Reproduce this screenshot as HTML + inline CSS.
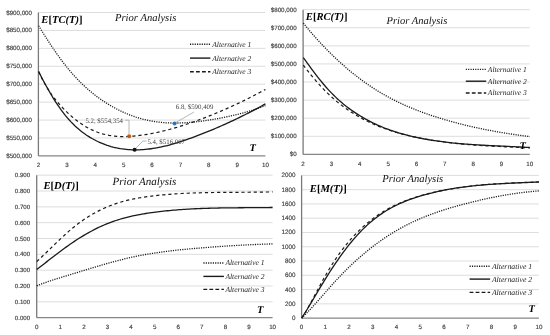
<!DOCTYPE html>
<html><head><meta charset="utf-8"><title>Prior Analysis charts</title>
<style>
html,body{margin:0;padding:0;background:#fff;}
body{width:550px;height:335px;overflow:hidden;}
svg{display:block;}
</style></head>
<body>
<svg width="550" height="335" viewBox="0 0 550 335" text-rendering="geometricPrecision">
<rect width="550" height="335" fill="#fff"/>
<line x1="38.4" y1="12.50" x2="265.4" y2="12.50" stroke="#d9d9d9" stroke-width="0.9"/>
<line x1="38.4" y1="30.43" x2="265.4" y2="30.43" stroke="#d9d9d9" stroke-width="0.9"/>
<line x1="38.4" y1="48.35" x2="265.4" y2="48.35" stroke="#d9d9d9" stroke-width="0.9"/>
<line x1="38.4" y1="66.28" x2="265.4" y2="66.28" stroke="#d9d9d9" stroke-width="0.9"/>
<line x1="38.4" y1="84.20" x2="265.4" y2="84.20" stroke="#d9d9d9" stroke-width="0.9"/>
<line x1="38.4" y1="102.12" x2="265.4" y2="102.12" stroke="#d9d9d9" stroke-width="0.9"/>
<line x1="38.4" y1="120.05" x2="265.4" y2="120.05" stroke="#d9d9d9" stroke-width="0.9"/>
<line x1="38.4" y1="137.97" x2="265.4" y2="137.97" stroke="#d9d9d9" stroke-width="0.9"/>
<line x1="38.4" y1="155.90" x2="265.4" y2="155.90" stroke="#868686" stroke-width="1.4"/>
<line x1="38.4" y1="12.50" x2="38.4" y2="155.90" stroke="#7a7a7a" stroke-width="1.3"/>
<text x="32" y="14.50" text-anchor="end" font-family="'Liberation Sans', Arial, sans-serif" font-size="6.2" fill="#404040" stroke="#404040" stroke-width="0.15">$900,000</text>
<text x="32" y="32.42" text-anchor="end" font-family="'Liberation Sans', Arial, sans-serif" font-size="6.2" fill="#404040" stroke="#404040" stroke-width="0.15">$850,000</text>
<text x="32" y="50.35" text-anchor="end" font-family="'Liberation Sans', Arial, sans-serif" font-size="6.2" fill="#404040" stroke="#404040" stroke-width="0.15">$800,000</text>
<text x="32" y="68.28" text-anchor="end" font-family="'Liberation Sans', Arial, sans-serif" font-size="6.2" fill="#404040" stroke="#404040" stroke-width="0.15">$750,000</text>
<text x="32" y="86.20" text-anchor="end" font-family="'Liberation Sans', Arial, sans-serif" font-size="6.2" fill="#404040" stroke="#404040" stroke-width="0.15">$700,000</text>
<text x="32" y="104.12" text-anchor="end" font-family="'Liberation Sans', Arial, sans-serif" font-size="6.2" fill="#404040" stroke="#404040" stroke-width="0.15">$650,000</text>
<text x="32" y="122.05" text-anchor="end" font-family="'Liberation Sans', Arial, sans-serif" font-size="6.2" fill="#404040" stroke="#404040" stroke-width="0.15">$600,000</text>
<text x="32" y="139.97" text-anchor="end" font-family="'Liberation Sans', Arial, sans-serif" font-size="6.2" fill="#404040" stroke="#404040" stroke-width="0.15">$550,000</text>
<text x="32" y="157.90" text-anchor="end" font-family="'Liberation Sans', Arial, sans-serif" font-size="6.2" fill="#404040" stroke="#404040" stroke-width="0.15">$500,000</text>
<text x="38.50" y="166.60" text-anchor="middle" font-family="'Liberation Sans', Arial, sans-serif" font-size="6.2" fill="#404040" stroke="#404040" stroke-width="0.15">2</text>
<text x="66.88" y="166.60" text-anchor="middle" font-family="'Liberation Sans', Arial, sans-serif" font-size="6.2" fill="#404040" stroke="#404040" stroke-width="0.15">3</text>
<text x="95.25" y="166.60" text-anchor="middle" font-family="'Liberation Sans', Arial, sans-serif" font-size="6.2" fill="#404040" stroke="#404040" stroke-width="0.15">4</text>
<text x="123.62" y="166.60" text-anchor="middle" font-family="'Liberation Sans', Arial, sans-serif" font-size="6.2" fill="#404040" stroke="#404040" stroke-width="0.15">5</text>
<text x="152.00" y="166.60" text-anchor="middle" font-family="'Liberation Sans', Arial, sans-serif" font-size="6.2" fill="#404040" stroke="#404040" stroke-width="0.15">6</text>
<text x="180.38" y="166.60" text-anchor="middle" font-family="'Liberation Sans', Arial, sans-serif" font-size="6.2" fill="#404040" stroke="#404040" stroke-width="0.15">7</text>
<text x="208.75" y="166.60" text-anchor="middle" font-family="'Liberation Sans', Arial, sans-serif" font-size="6.2" fill="#404040" stroke="#404040" stroke-width="0.15">8</text>
<text x="237.12" y="166.60" text-anchor="middle" font-family="'Liberation Sans', Arial, sans-serif" font-size="6.2" fill="#404040" stroke="#404040" stroke-width="0.15">9</text>
<text x="265.50" y="166.60" text-anchor="middle" font-family="'Liberation Sans', Arial, sans-serif" font-size="6.2" fill="#404040" stroke="#404040" stroke-width="0.15">10</text>
<path d="M38.60,25.80 L40.51,28.87 L42.41,31.92 L44.32,34.94 L46.22,37.93 L48.13,40.87 L50.04,43.78 L51.94,46.65 L53.85,49.47 L55.75,52.24 L57.66,54.95 L59.56,57.61 L61.47,60.20 L63.38,62.73 L65.28,65.19 L67.19,67.59 L69.09,69.90 L71.00,72.15 L72.91,74.33 L74.81,76.45 L76.72,78.49 L78.62,80.48 L80.53,82.40 L82.44,84.25 L84.34,86.05 L86.25,87.80 L88.15,89.48 L90.06,91.11 L91.96,92.69 L93.87,94.22 L95.78,95.69 L97.68,97.12 L99.59,98.50 L101.49,99.83 L103.40,101.12 L105.31,102.37 L107.21,103.57 L109.12,104.74 L111.02,105.87 L112.93,106.95 L114.84,108.00 L116.74,109.01 L118.65,109.98 L120.55,110.92 L122.46,111.81 L124.36,112.67 L126.27,113.49 L128.18,114.28 L130.08,115.03 L131.99,115.74 L133.89,116.41 L135.80,117.06 L137.71,117.66 L139.61,118.23 L141.52,118.77 L143.42,119.27 L145.33,119.74 L147.24,120.18 L149.14,120.58 L151.05,120.95 L152.95,121.28 L154.86,121.59 L156.76,121.86 L158.67,122.11 L160.58,122.32 L162.48,122.50 L164.39,122.66 L166.29,122.79 L168.20,122.89 L170.11,122.97 L172.01,123.02 L173.92,123.04 L175.82,123.04 L177.73,123.02 L179.64,122.98 L181.54,122.92 L183.45,122.83 L185.35,122.73 L187.26,122.60 L189.16,122.46 L191.07,122.30 L192.98,122.12 L194.88,121.93 L196.79,121.72 L198.69,121.50 L200.60,121.26 L202.51,121.01 L204.41,120.75 L206.32,120.47 L208.22,120.19 L210.13,119.89 L212.04,119.59 L213.94,119.27 L215.85,118.94 L217.75,118.61 L219.66,118.26 L221.56,117.90 L223.47,117.52 L225.38,117.14 L227.28,116.74 L229.19,116.33 L231.09,115.90 L233.00,115.46 L234.91,115.01 L236.81,114.54 L238.72,114.06 L240.62,113.57 L242.53,113.05 L244.44,112.53 L246.34,111.98 L248.25,111.42 L250.15,110.85 L252.06,110.26 L253.96,109.65 L255.87,109.02 L257.78,108.37 L259.68,107.71 L261.59,107.03 L263.49,106.33 L265.40,105.61" fill="none" stroke="#1a1a1a" stroke-width="1.3" stroke-linejoin="round" stroke-dasharray="1.15 1.2"/>
<path d="M38.60,71.52 L40.51,75.27 L42.41,78.95 L44.32,82.53 L46.22,86.03 L48.13,89.44 L50.04,92.76 L51.94,95.97 L53.85,99.08 L55.75,102.08 L57.66,104.97 L59.56,107.74 L61.47,110.39 L63.38,112.91 L65.28,115.32 L67.19,117.61 L69.09,119.79 L71.00,121.85 L72.91,123.81 L74.81,125.67 L76.72,127.44 L78.62,129.11 L80.53,130.68 L82.44,132.18 L84.34,133.59 L86.25,134.92 L88.15,136.17 L90.06,137.36 L91.96,138.48 L93.87,139.53 L95.78,140.53 L97.68,141.47 L99.59,142.35 L101.49,143.18 L103.40,143.95 L105.31,144.68 L107.21,145.35 L109.12,145.97 L111.02,146.54 L112.93,147.06 L114.84,147.53 L116.74,147.96 L118.65,148.34 L120.55,148.68 L122.46,148.97 L124.36,149.22 L126.27,149.43 L128.18,149.60 L130.08,149.72 L131.99,149.81 L133.89,149.86 L135.80,149.87 L137.71,149.85 L139.61,149.79 L141.52,149.70 L143.42,149.57 L145.33,149.41 L147.24,149.22 L149.14,149.00 L151.05,148.75 L152.95,148.47 L154.86,148.16 L156.76,147.82 L158.67,147.46 L160.58,147.07 L162.48,146.66 L164.39,146.22 L166.29,145.76 L168.20,145.27 L170.11,144.77 L172.01,144.24 L173.92,143.70 L175.82,143.13 L177.73,142.55 L179.64,141.95 L181.54,141.33 L183.45,140.70 L185.35,140.05 L187.26,139.39 L189.16,138.72 L191.07,138.03 L192.98,137.33 L194.88,136.62 L196.79,135.90 L198.69,135.18 L200.60,134.44 L202.51,133.69 L204.41,132.94 L206.32,132.18 L208.22,131.41 L210.13,130.63 L212.04,129.84 L213.94,129.04 L215.85,128.23 L217.75,127.41 L219.66,126.59 L221.56,125.75 L223.47,124.91 L225.38,124.05 L227.28,123.19 L229.19,122.32 L231.09,121.43 L233.00,120.54 L234.91,119.64 L236.81,118.73 L238.72,117.81 L240.62,116.88 L242.53,115.94 L244.44,114.99 L246.34,114.03 L248.25,113.06 L250.15,112.08 L252.06,111.09 L253.96,110.09 L255.87,109.08 L257.78,108.06 L259.68,107.03 L261.59,105.99 L263.49,104.94 L265.40,103.87" fill="none" stroke="#1a1a1a" stroke-width="1.3" stroke-linejoin="round" />
<path d="M38.60,71.52 L40.51,75.58 L42.41,79.38 L44.32,82.93 L46.22,86.25 L48.13,89.36 L50.04,92.26 L51.94,94.99 L53.85,97.56 L55.75,99.98 L57.66,102.28 L59.56,104.46 L61.47,106.55 L63.38,108.56 L65.28,110.50 L67.19,112.36 L69.09,114.15 L71.00,115.86 L72.91,117.50 L74.81,119.06 L76.72,120.55 L78.62,121.97 L80.53,123.32 L82.44,124.59 L84.34,125.80 L86.25,126.93 L88.15,128.00 L90.06,128.99 L91.96,129.92 L93.87,130.78 L95.78,131.57 L97.68,132.29 L99.59,132.96 L101.49,133.55 L103.40,134.09 L105.31,134.57 L107.21,134.99 L109.12,135.36 L111.02,135.67 L112.93,135.94 L114.84,136.15 L116.74,136.32 L118.65,136.45 L120.55,136.53 L122.46,136.57 L124.36,136.57 L126.27,136.54 L128.18,136.47 L130.08,136.37 L131.99,136.24 L133.89,136.08 L135.80,135.89 L137.71,135.68 L139.61,135.45 L141.52,135.20 L143.42,134.92 L145.33,134.63 L147.24,134.32 L149.14,133.99 L151.05,133.64 L152.95,133.28 L154.86,132.89 L156.76,132.50 L158.67,132.08 L160.58,131.65 L162.48,131.20 L164.39,130.73 L166.29,130.25 L168.20,129.76 L170.11,129.25 L172.01,128.72 L173.92,128.18 L175.82,127.63 L177.73,127.06 L179.64,126.48 L181.54,125.89 L183.45,125.28 L185.35,124.67 L187.26,124.03 L189.16,123.39 L191.07,122.74 L192.98,122.08 L194.88,121.40 L196.79,120.71 L198.69,120.02 L200.60,119.31 L202.51,118.60 L204.41,117.87 L206.32,117.13 L208.22,116.39 L210.13,115.63 L212.04,114.87 L213.94,114.09 L215.85,113.30 L217.75,112.51 L219.66,111.70 L221.56,110.89 L223.47,110.06 L225.38,109.23 L227.28,108.38 L229.19,107.53 L231.09,106.67 L233.00,105.79 L234.91,104.91 L236.81,104.02 L238.72,103.11 L240.62,102.20 L242.53,101.28 L244.44,100.35 L246.34,99.41 L248.25,98.46 L250.15,97.50 L252.06,96.53 L253.96,95.55 L255.87,94.56 L257.78,93.56 L259.68,92.55 L261.59,91.54 L263.49,90.51 L265.40,89.48" fill="none" stroke="#1a1a1a" stroke-width="1.2" stroke-linejoin="round" stroke-dasharray="3.2 2.9"/>
<text x="41.3" y="23.4" font-family="'Liberation Serif', 'Times New Roman', serif" font-weight="bold" font-size="10.6" fill="#000"><tspan font-style="italic">E</tspan>[<tspan font-style="italic">TC(T)</tspan>]</text>
<text x="115.0" y="20.7" font-family="'Liberation Serif', 'Times New Roman', serif" font-style="italic" font-size="10.6" fill="#111">Prior Analysis</text>
<line x1="190.0" y1="44.2" x2="210.4" y2="44.2" stroke="#1a1a1a" stroke-width="1.4" stroke-dasharray="1.15 1.2"/>
<text x="212.2" y="46.60" font-family="'Liberation Serif', 'Times New Roman', serif" font-style="italic" font-size="7.55" fill="#1c1c1c">Alternative 1</text>
<line x1="190.0" y1="58.1" x2="210.4" y2="58.1" stroke="#1a1a1a" stroke-width="1.4" />
<text x="212.2" y="60.50" font-family="'Liberation Serif', 'Times New Roman', serif" font-style="italic" font-size="7.55" fill="#1c1c1c">Alternative 2</text>
<line x1="190.0" y1="71.7" x2="210.4" y2="71.7" stroke="#1a1a1a" stroke-width="1.35" stroke-dasharray="3.8 2.2"/>
<text x="212.2" y="74.10" font-family="'Liberation Serif', 'Times New Roman', serif" font-style="italic" font-size="7.55" fill="#1c1c1c">Alternative 3</text>
<text x="249.5" y="150.8" font-family="'Liberation Serif', 'Times New Roman', serif" font-weight="bold" font-style="italic" font-size="10.5" fill="#000">T</text>
<polyline points="125.2,120.2 129.0,120.2 129.0,134.2" fill="none" stroke="#a6a6a6" stroke-width="0.8"/>
<polyline points="134.6,149.6 142.8,141 146.5,141" fill="none" stroke="#a6a6a6" stroke-width="0.8"/>
<polyline points="174.6,123.2 194,112" fill="none" stroke="#a6a6a6" stroke-width="0.8"/>
<text x="85.4" y="122.8" font-family="'Liberation Serif', 'Times New Roman', serif" font-size="6.85" fill="#3f3f3f">5.2, $554,354</text>
<text x="147.4" y="143.9" font-family="'Liberation Serif', 'Times New Roman', serif" font-size="6.85" fill="#3f3f3f">5.4, $516,007</text>
<text x="175.8" y="109.4" font-family="'Liberation Serif', 'Times New Roman', serif" font-size="6.85" fill="#3f3f3f">6.8, $590,409</text>
<circle cx="129.2" cy="136.3" r="2" fill="#c55a11"/>
<circle cx="134.6" cy="149.8" r="2" fill="#111"/>
<circle cx="174.6" cy="123.4" r="2" fill="#2e75b6"/>
<line x1="303.1" y1="9.65" x2="529.8" y2="9.65" stroke="#d9d9d9" stroke-width="0.9"/>
<line x1="303.1" y1="27.74" x2="529.8" y2="27.74" stroke="#d9d9d9" stroke-width="0.9"/>
<line x1="303.1" y1="45.84" x2="529.8" y2="45.84" stroke="#d9d9d9" stroke-width="0.9"/>
<line x1="303.1" y1="63.93" x2="529.8" y2="63.93" stroke="#d9d9d9" stroke-width="0.9"/>
<line x1="303.1" y1="82.03" x2="529.8" y2="82.03" stroke="#d9d9d9" stroke-width="0.9"/>
<line x1="303.1" y1="100.12" x2="529.8" y2="100.12" stroke="#d9d9d9" stroke-width="0.9"/>
<line x1="303.1" y1="118.21" x2="529.8" y2="118.21" stroke="#d9d9d9" stroke-width="0.9"/>
<line x1="303.1" y1="136.31" x2="529.8" y2="136.31" stroke="#d9d9d9" stroke-width="0.9"/>
<line x1="303.1" y1="154.40" x2="529.8" y2="154.40" stroke="#868686" stroke-width="1.4"/>
<line x1="303.1" y1="9.65" x2="303.1" y2="154.40" stroke="#7a7a7a" stroke-width="1.3"/>
<text x="296.6" y="11.65" text-anchor="end" font-family="'Liberation Sans', Arial, sans-serif" font-size="6.2" fill="#404040" stroke="#404040" stroke-width="0.15">$800,000</text>
<text x="296.6" y="29.74" text-anchor="end" font-family="'Liberation Sans', Arial, sans-serif" font-size="6.2" fill="#404040" stroke="#404040" stroke-width="0.15">$700,000</text>
<text x="296.6" y="47.84" text-anchor="end" font-family="'Liberation Sans', Arial, sans-serif" font-size="6.2" fill="#404040" stroke="#404040" stroke-width="0.15">$600,000</text>
<text x="296.6" y="65.93" text-anchor="end" font-family="'Liberation Sans', Arial, sans-serif" font-size="6.2" fill="#404040" stroke="#404040" stroke-width="0.15">$500,000</text>
<text x="296.6" y="84.03" text-anchor="end" font-family="'Liberation Sans', Arial, sans-serif" font-size="6.2" fill="#404040" stroke="#404040" stroke-width="0.15">$400,000</text>
<text x="296.6" y="102.12" text-anchor="end" font-family="'Liberation Sans', Arial, sans-serif" font-size="6.2" fill="#404040" stroke="#404040" stroke-width="0.15">$300,000</text>
<text x="296.6" y="120.21" text-anchor="end" font-family="'Liberation Sans', Arial, sans-serif" font-size="6.2" fill="#404040" stroke="#404040" stroke-width="0.15">$200,000</text>
<text x="296.6" y="138.31" text-anchor="end" font-family="'Liberation Sans', Arial, sans-serif" font-size="6.2" fill="#404040" stroke="#404040" stroke-width="0.15">$100,000</text>
<text x="296.6" y="156.40" text-anchor="end" font-family="'Liberation Sans', Arial, sans-serif" font-size="6.2" fill="#404040" stroke="#404040" stroke-width="0.15">$0</text>
<text x="303.10" y="165.80" text-anchor="middle" font-family="'Liberation Sans', Arial, sans-serif" font-size="6.2" fill="#404040" stroke="#404040" stroke-width="0.15">2</text>
<text x="331.44" y="165.80" text-anchor="middle" font-family="'Liberation Sans', Arial, sans-serif" font-size="6.2" fill="#404040" stroke="#404040" stroke-width="0.15">3</text>
<text x="359.78" y="165.80" text-anchor="middle" font-family="'Liberation Sans', Arial, sans-serif" font-size="6.2" fill="#404040" stroke="#404040" stroke-width="0.15">4</text>
<text x="388.12" y="165.80" text-anchor="middle" font-family="'Liberation Sans', Arial, sans-serif" font-size="6.2" fill="#404040" stroke="#404040" stroke-width="0.15">5</text>
<text x="416.46" y="165.80" text-anchor="middle" font-family="'Liberation Sans', Arial, sans-serif" font-size="6.2" fill="#404040" stroke="#404040" stroke-width="0.15">6</text>
<text x="444.80" y="165.80" text-anchor="middle" font-family="'Liberation Sans', Arial, sans-serif" font-size="6.2" fill="#404040" stroke="#404040" stroke-width="0.15">7</text>
<text x="473.14" y="165.80" text-anchor="middle" font-family="'Liberation Sans', Arial, sans-serif" font-size="6.2" fill="#404040" stroke="#404040" stroke-width="0.15">8</text>
<text x="501.48" y="165.80" text-anchor="middle" font-family="'Liberation Sans', Arial, sans-serif" font-size="6.2" fill="#404040" stroke="#404040" stroke-width="0.15">9</text>
<text x="529.82" y="165.80" text-anchor="middle" font-family="'Liberation Sans', Arial, sans-serif" font-size="6.2" fill="#404040" stroke="#404040" stroke-width="0.15">10</text>
<path d="M303.30,23.08 L305.20,25.44 L307.11,27.76 L309.01,30.04 L310.91,32.28 L312.82,34.48 L314.72,36.64 L316.62,38.77 L318.53,40.86 L320.43,42.92 L322.33,44.94 L324.24,46.93 L326.14,48.89 L328.04,50.82 L329.95,52.72 L331.85,54.59 L333.75,56.43 L335.66,58.24 L337.56,60.02 L339.46,61.77 L341.37,63.50 L343.27,65.19 L345.17,66.85 L347.08,68.49 L348.98,70.10 L350.88,71.67 L352.79,73.22 L354.69,74.74 L356.59,76.24 L358.50,77.70 L360.40,79.14 L362.30,80.54 L364.21,81.92 L366.11,83.27 L368.01,84.60 L369.92,85.89 L371.82,87.16 L373.72,88.40 L375.63,89.61 L377.53,90.80 L379.43,91.96 L381.34,93.09 L383.24,94.20 L385.14,95.29 L387.05,96.35 L388.95,97.38 L390.85,98.40 L392.76,99.39 L394.66,100.36 L396.56,101.31 L398.47,102.23 L400.37,103.14 L402.27,104.03 L404.18,104.89 L406.08,105.74 L407.98,106.57 L409.89,107.38 L411.79,108.17 L413.69,108.95 L415.60,109.71 L417.50,110.45 L419.41,111.18 L421.31,111.89 L423.21,112.59 L425.12,113.27 L427.02,113.94 L428.92,114.60 L430.83,115.25 L432.73,115.88 L434.63,116.50 L436.54,117.11 L438.44,117.71 L440.34,118.30 L442.25,118.88 L444.15,119.45 L446.05,120.01 L447.96,120.56 L449.86,121.10 L451.76,121.63 L453.67,122.15 L455.57,122.66 L457.47,123.17 L459.38,123.66 L461.28,124.15 L463.18,124.62 L465.09,125.09 L466.99,125.55 L468.89,126.00 L470.80,126.45 L472.70,126.88 L474.60,127.31 L476.51,127.73 L478.41,128.14 L480.31,128.54 L482.22,128.94 L484.12,129.32 L486.02,129.70 L487.93,130.07 L489.83,130.44 L491.73,130.80 L493.64,131.15 L495.54,131.49 L497.44,131.83 L499.35,132.16 L501.25,132.48 L503.15,132.79 L505.06,133.10 L506.96,133.41 L508.86,133.70 L510.77,133.99 L512.67,134.28 L514.57,134.55 L516.48,134.83 L518.38,135.09 L520.28,135.35 L522.19,135.61 L524.09,135.85 L525.99,136.10 L527.90,136.33 L529.80,136.57" fill="none" stroke="#1a1a1a" stroke-width="1.3" stroke-linejoin="round" stroke-dasharray="1.15 1.2"/>
<path d="M303.30,57.54 L305.20,60.19 L307.11,62.83 L309.01,65.45 L310.91,68.04 L312.82,70.60 L314.72,73.13 L316.62,75.62 L318.53,78.06 L320.43,80.45 L322.33,82.78 L324.24,85.04 L326.14,87.24 L328.04,89.36 L329.95,91.41 L331.85,93.39 L333.75,95.30 L335.66,97.14 L337.56,98.92 L339.46,100.64 L341.37,102.29 L343.27,103.89 L345.17,105.44 L347.08,106.93 L348.98,108.37 L350.88,109.76 L352.79,111.10 L354.69,112.40 L356.59,113.65 L358.50,114.87 L360.40,116.04 L362.30,117.18 L364.21,118.28 L366.11,119.35 L368.01,120.38 L369.92,121.38 L371.82,122.34 L373.72,123.27 L375.63,124.18 L377.53,125.05 L379.43,125.89 L381.34,126.70 L383.24,127.48 L385.14,128.24 L387.05,128.96 L388.95,129.67 L390.85,130.34 L392.76,130.99 L394.66,131.62 L396.56,132.23 L398.47,132.81 L400.37,133.38 L402.27,133.92 L404.18,134.44 L406.08,134.94 L407.98,135.43 L409.89,135.89 L411.79,136.34 L413.69,136.78 L415.60,137.20 L417.50,137.60 L419.41,137.99 L421.31,138.37 L423.21,138.74 L425.12,139.09 L427.02,139.43 L428.92,139.76 L430.83,140.07 L432.73,140.37 L434.63,140.67 L436.54,140.95 L438.44,141.22 L440.34,141.48 L442.25,141.73 L444.15,141.97 L446.05,142.20 L447.96,142.42 L449.86,142.63 L451.76,142.83 L453.67,143.03 L455.57,143.22 L457.47,143.39 L459.38,143.57 L461.28,143.73 L463.18,143.89 L465.09,144.04 L466.99,144.19 L468.89,144.33 L470.80,144.46 L472.70,144.59 L474.60,144.71 L476.51,144.83 L478.41,144.95 L480.31,145.06 L482.22,145.17 L484.12,145.27 L486.02,145.37 L487.93,145.47 L489.83,145.56 L491.73,145.66 L493.64,145.75 L495.54,145.84 L497.44,145.93 L499.35,146.01 L501.25,146.10 L503.15,146.19 L505.06,146.27 L506.96,146.36 L508.86,146.45 L510.77,146.53 L512.67,146.62 L514.57,146.71 L516.48,146.80 L518.38,146.90 L520.28,147.00 L522.19,147.09 L524.09,147.20 L525.99,147.30 L527.90,147.41 L529.80,147.52" fill="none" stroke="#1a1a1a" stroke-width="1.3" stroke-linejoin="round" />
<path d="M303.30,65.04 L305.20,67.58 L307.11,70.06 L309.01,72.49 L310.91,74.87 L312.82,77.18 L314.72,79.45 L316.62,81.65 L318.53,83.80 L320.43,85.89 L322.33,87.92 L324.24,89.89 L326.14,91.81 L328.04,93.66 L329.95,95.46 L331.85,97.21 L333.75,98.90 L335.66,100.53 L337.56,102.11 L339.46,103.65 L341.37,105.13 L343.27,106.57 L345.17,107.96 L347.08,109.31 L348.98,110.61 L350.88,111.88 L352.79,113.10 L354.69,114.28 L356.59,115.42 L358.50,116.53 L360.40,117.61 L362.30,118.65 L364.21,119.66 L366.11,120.63 L368.01,121.58 L369.92,122.49 L371.82,123.37 L373.72,124.23 L375.63,125.06 L377.53,125.86 L379.43,126.63 L381.34,127.38 L383.24,128.10 L385.14,128.79 L387.05,129.47 L388.95,130.12 L390.85,130.74 L392.76,131.35 L394.66,131.93 L396.56,132.50 L398.47,133.05 L400.37,133.57 L402.27,134.08 L404.18,134.57 L406.08,135.05 L407.98,135.51 L409.89,135.96 L411.79,136.39 L413.69,136.81 L415.60,137.21 L417.50,137.60 L419.41,137.99 L421.31,138.36 L423.21,138.72 L425.12,139.07 L427.02,139.41 L428.92,139.73 L430.83,140.05 L432.73,140.36 L434.63,140.66 L436.54,140.95 L438.44,141.23 L440.34,141.50 L442.25,141.76 L444.15,142.01 L446.05,142.26 L447.96,142.50 L449.86,142.72 L451.76,142.94 L453.67,143.16 L455.57,143.36 L457.47,143.56 L459.38,143.75 L461.28,143.94 L463.18,144.11 L465.09,144.29 L466.99,144.45 L468.89,144.61 L470.80,144.76 L472.70,144.91 L474.60,145.05 L476.51,145.19 L478.41,145.32 L480.31,145.45 L482.22,145.58 L484.12,145.69 L486.02,145.81 L487.93,145.92 L489.83,146.03 L491.73,146.13 L493.64,146.23 L495.54,146.33 L497.44,146.42 L499.35,146.52 L501.25,146.61 L503.15,146.69 L505.06,146.78 L506.96,146.86 L508.86,146.94 L510.77,147.02 L512.67,147.10 L514.57,147.18 L516.48,147.26 L518.38,147.34 L520.28,147.41 L522.19,147.49 L524.09,147.57 L525.99,147.64 L527.90,147.72 L529.80,147.80" fill="none" stroke="#1a1a1a" stroke-width="1.2" stroke-linejoin="round" stroke-dasharray="3.2 2.9"/>
<text x="305.8" y="20.2" font-family="'Liberation Serif', 'Times New Roman', serif" font-weight="bold" font-size="10.6" fill="#000"><tspan font-style="italic">E</tspan>[<tspan font-style="italic">RC(T)</tspan>]</text>
<text x="386.6" y="23.6" font-family="'Liberation Serif', 'Times New Roman', serif" font-style="italic" font-size="10.5" fill="#111">Prior Analysis</text>
<line x1="465.8" y1="69.4" x2="486.2" y2="69.4" stroke="#1a1a1a" stroke-width="1.4" stroke-dasharray="1.15 1.2"/>
<text x="487.8" y="71.80" font-family="'Liberation Serif', 'Times New Roman', serif" font-style="italic" font-size="7.5" fill="#1c1c1c">Alternative 1</text>
<line x1="465.8" y1="81.2" x2="486.2" y2="81.2" stroke="#1a1a1a" stroke-width="1.4" />
<text x="487.8" y="83.60" font-family="'Liberation Serif', 'Times New Roman', serif" font-style="italic" font-size="7.5" fill="#1c1c1c">Alternative 2</text>
<line x1="465.8" y1="93.0" x2="486.2" y2="93.0" stroke="#1a1a1a" stroke-width="1.35" stroke-dasharray="3.8 2.2"/>
<text x="487.8" y="95.40" font-family="'Liberation Serif', 'Times New Roman', serif" font-style="italic" font-size="7.5" fill="#1c1c1c">Alternative 3</text>
<text x="519.5" y="149.4" font-family="'Liberation Serif', 'Times New Roman', serif" font-weight="bold" font-style="italic" font-size="10.5" fill="#000">T</text>
<line x1="36.7" y1="175.18" x2="272.6" y2="175.18" stroke="#d9d9d9" stroke-width="0.9"/>
<line x1="36.7" y1="191.01" x2="272.6" y2="191.01" stroke="#d9d9d9" stroke-width="0.9"/>
<line x1="36.7" y1="206.84" x2="272.6" y2="206.84" stroke="#d9d9d9" stroke-width="0.9"/>
<line x1="36.7" y1="222.67" x2="272.6" y2="222.67" stroke="#d9d9d9" stroke-width="0.9"/>
<line x1="36.7" y1="238.50" x2="272.6" y2="238.50" stroke="#d9d9d9" stroke-width="0.9"/>
<line x1="36.7" y1="254.33" x2="272.6" y2="254.33" stroke="#d9d9d9" stroke-width="0.9"/>
<line x1="36.7" y1="270.16" x2="272.6" y2="270.16" stroke="#d9d9d9" stroke-width="0.9"/>
<line x1="36.7" y1="285.99" x2="272.6" y2="285.99" stroke="#d9d9d9" stroke-width="0.9"/>
<line x1="36.7" y1="301.82" x2="272.6" y2="301.82" stroke="#d9d9d9" stroke-width="0.9"/>
<line x1="36.7" y1="317.65" x2="272.6" y2="317.65" stroke="#868686" stroke-width="1.4"/>
<line x1="36.7" y1="175.18" x2="36.7" y2="317.65" stroke="#7a7a7a" stroke-width="1.3"/>
<text x="30.1" y="177.18" text-anchor="end" font-family="'Liberation Sans', Arial, sans-serif" font-size="6.1" fill="#404040" stroke="#404040" stroke-width="0.15">0.900</text>
<text x="30.1" y="193.01" text-anchor="end" font-family="'Liberation Sans', Arial, sans-serif" font-size="6.1" fill="#404040" stroke="#404040" stroke-width="0.15">0.800</text>
<text x="30.1" y="208.84" text-anchor="end" font-family="'Liberation Sans', Arial, sans-serif" font-size="6.1" fill="#404040" stroke="#404040" stroke-width="0.15">0.700</text>
<text x="30.1" y="224.67" text-anchor="end" font-family="'Liberation Sans', Arial, sans-serif" font-size="6.1" fill="#404040" stroke="#404040" stroke-width="0.15">0.600</text>
<text x="30.1" y="240.50" text-anchor="end" font-family="'Liberation Sans', Arial, sans-serif" font-size="6.1" fill="#404040" stroke="#404040" stroke-width="0.15">0.500</text>
<text x="30.1" y="256.33" text-anchor="end" font-family="'Liberation Sans', Arial, sans-serif" font-size="6.1" fill="#404040" stroke="#404040" stroke-width="0.15">0.400</text>
<text x="30.1" y="272.16" text-anchor="end" font-family="'Liberation Sans', Arial, sans-serif" font-size="6.1" fill="#404040" stroke="#404040" stroke-width="0.15">0.300</text>
<text x="30.1" y="287.99" text-anchor="end" font-family="'Liberation Sans', Arial, sans-serif" font-size="6.1" fill="#404040" stroke="#404040" stroke-width="0.15">0.200</text>
<text x="30.1" y="303.82" text-anchor="end" font-family="'Liberation Sans', Arial, sans-serif" font-size="6.1" fill="#404040" stroke="#404040" stroke-width="0.15">0.100</text>
<text x="30.1" y="319.65" text-anchor="end" font-family="'Liberation Sans', Arial, sans-serif" font-size="6.1" fill="#404040" stroke="#404040" stroke-width="0.15">0.000</text>
<text x="36.70" y="329.00" text-anchor="middle" font-family="'Liberation Sans', Arial, sans-serif" font-size="6.2" fill="#404040" stroke="#404040" stroke-width="0.15">0</text>
<text x="60.29" y="329.00" text-anchor="middle" font-family="'Liberation Sans', Arial, sans-serif" font-size="6.2" fill="#404040" stroke="#404040" stroke-width="0.15">1</text>
<text x="83.88" y="329.00" text-anchor="middle" font-family="'Liberation Sans', Arial, sans-serif" font-size="6.2" fill="#404040" stroke="#404040" stroke-width="0.15">2</text>
<text x="107.47" y="329.00" text-anchor="middle" font-family="'Liberation Sans', Arial, sans-serif" font-size="6.2" fill="#404040" stroke="#404040" stroke-width="0.15">3</text>
<text x="131.06" y="329.00" text-anchor="middle" font-family="'Liberation Sans', Arial, sans-serif" font-size="6.2" fill="#404040" stroke="#404040" stroke-width="0.15">4</text>
<text x="154.65" y="329.00" text-anchor="middle" font-family="'Liberation Sans', Arial, sans-serif" font-size="6.2" fill="#404040" stroke="#404040" stroke-width="0.15">5</text>
<text x="178.24" y="329.00" text-anchor="middle" font-family="'Liberation Sans', Arial, sans-serif" font-size="6.2" fill="#404040" stroke="#404040" stroke-width="0.15">6</text>
<text x="201.83" y="329.00" text-anchor="middle" font-family="'Liberation Sans', Arial, sans-serif" font-size="6.2" fill="#404040" stroke="#404040" stroke-width="0.15">7</text>
<text x="225.42" y="329.00" text-anchor="middle" font-family="'Liberation Sans', Arial, sans-serif" font-size="6.2" fill="#404040" stroke="#404040" stroke-width="0.15">8</text>
<text x="249.01" y="329.00" text-anchor="middle" font-family="'Liberation Sans', Arial, sans-serif" font-size="6.2" fill="#404040" stroke="#404040" stroke-width="0.15">9</text>
<text x="272.60" y="329.00" text-anchor="middle" font-family="'Liberation Sans', Arial, sans-serif" font-size="6.2" fill="#404040" stroke="#404040" stroke-width="0.15">10</text>
<path d="M36.70,285.80 L38.68,285.03 L40.66,284.27 L42.65,283.54 L44.63,282.82 L46.61,282.13 L48.59,281.44 L50.58,280.78 L52.56,280.12 L54.54,279.48 L56.52,278.84 L58.51,278.22 L60.49,277.60 L62.47,276.99 L64.45,276.38 L66.44,275.78 L68.42,275.18 L70.40,274.57 L72.38,273.97 L74.36,273.37 L76.35,272.76 L78.33,272.15 L80.31,271.55 L82.29,270.94 L84.28,270.33 L86.26,269.72 L88.24,269.12 L90.22,268.51 L92.21,267.91 L94.19,267.32 L96.17,266.72 L98.15,266.13 L100.14,265.55 L102.12,264.96 L104.10,264.39 L106.08,263.82 L108.06,263.26 L110.05,262.71 L112.03,262.16 L114.01,261.62 L115.99,261.09 L117.98,260.57 L119.96,260.06 L121.94,259.56 L123.92,259.07 L125.91,258.59 L127.89,258.12 L129.87,257.67 L131.85,257.23 L133.84,256.80 L135.82,256.39 L137.80,255.99 L139.78,255.60 L141.76,255.22 L143.75,254.85 L145.73,254.50 L147.71,254.15 L149.69,253.82 L151.68,253.50 L153.66,253.18 L155.64,252.88 L157.62,252.59 L159.61,252.30 L161.59,252.03 L163.57,251.76 L165.55,251.50 L167.54,251.25 L169.52,251.01 L171.50,250.77 L173.48,250.54 L175.46,250.32 L177.45,250.10 L179.43,249.90 L181.41,249.69 L183.39,249.49 L185.38,249.30 L187.36,249.11 L189.34,248.93 L191.32,248.75 L193.31,248.58 L195.29,248.40 L197.27,248.24 L199.25,248.07 L201.24,247.91 L203.22,247.75 L205.20,247.59 L207.18,247.44 L209.16,247.28 L211.15,247.14 L213.13,246.99 L215.11,246.84 L217.09,246.70 L219.08,246.56 L221.06,246.42 L223.04,246.29 L225.02,246.16 L227.01,246.03 L228.99,245.90 L230.97,245.78 L232.95,245.66 L234.94,245.54 L236.92,245.43 L238.90,245.32 L240.88,245.21 L242.86,245.10 L244.85,245.00 L246.83,244.90 L248.81,244.80 L250.79,244.71 L252.78,244.62 L254.76,244.53 L256.74,244.45 L258.72,244.37 L260.71,244.29 L262.69,244.22 L264.67,244.15 L266.65,244.08 L268.64,244.02 L270.62,243.96 L272.60,243.90" fill="none" stroke="#1a1a1a" stroke-width="1.3" stroke-linejoin="round" stroke-dasharray="1.15 1.2"/>
<path d="M36.70,269.60 L38.68,268.06 L40.66,266.52 L42.65,264.97 L44.63,263.42 L46.61,261.88 L48.59,260.33 L50.58,258.79 L52.56,257.26 L54.54,255.73 L56.52,254.22 L58.51,252.72 L60.49,251.23 L62.47,249.76 L64.45,248.30 L66.44,246.87 L68.42,245.46 L70.40,244.07 L72.38,242.71 L74.36,241.38 L76.35,240.08 L78.33,238.80 L80.31,237.56 L82.29,236.34 L84.28,235.15 L86.26,233.99 L88.24,232.87 L90.22,231.77 L92.21,230.71 L94.19,229.67 L96.17,228.67 L98.15,227.70 L100.14,226.77 L102.12,225.87 L104.10,225.00 L106.08,224.16 L108.06,223.36 L110.05,222.60 L112.03,221.86 L114.01,221.16 L115.99,220.50 L117.98,219.86 L119.96,219.25 L121.94,218.67 L123.92,218.11 L125.91,217.58 L127.89,217.08 L129.87,216.60 L131.85,216.14 L133.84,215.71 L135.82,215.30 L137.80,214.90 L139.78,214.53 L141.76,214.17 L143.75,213.84 L145.73,213.51 L147.71,213.20 L149.69,212.91 L151.68,212.63 L153.66,212.36 L155.64,212.10 L157.62,211.85 L159.61,211.61 L161.59,211.38 L163.57,211.16 L165.55,210.95 L167.54,210.75 L169.52,210.56 L171.50,210.37 L173.48,210.20 L175.46,210.03 L177.45,209.87 L179.43,209.72 L181.41,209.58 L183.39,209.44 L185.38,209.31 L187.36,209.19 L189.34,209.08 L191.32,208.97 L193.31,208.86 L195.29,208.77 L197.27,208.68 L199.25,208.59 L201.24,208.51 L203.22,208.44 L205.20,208.37 L207.18,208.31 L209.16,208.25 L211.15,208.19 L213.13,208.14 L215.11,208.09 L217.09,208.05 L219.08,208.01 L221.06,207.97 L223.04,207.94 L225.02,207.91 L227.01,207.88 L228.99,207.86 L230.97,207.83 L232.95,207.81 L234.94,207.79 L236.92,207.78 L238.90,207.76 L240.88,207.75 L242.86,207.73 L244.85,207.72 L246.83,207.71 L248.81,207.70 L250.79,207.68 L252.78,207.67 L254.76,207.66 L256.74,207.65 L258.72,207.63 L260.71,207.62 L262.69,207.60 L264.67,207.59 L266.65,207.57 L268.64,207.55 L270.62,207.52 L272.60,207.50" fill="none" stroke="#1a1a1a" stroke-width="1.3" stroke-linejoin="round" />
<path d="M36.70,261.60 L38.68,259.78 L40.66,257.92 L42.65,256.04 L44.63,254.15 L46.61,252.24 L48.59,250.32 L50.58,248.39 L52.56,246.47 L54.54,244.55 L56.52,242.64 L58.51,240.74 L60.49,238.87 L62.47,237.01 L64.45,235.19 L66.44,233.40 L68.42,231.65 L70.40,229.94 L72.38,228.27 L74.36,226.66 L76.35,225.10 L78.33,223.59 L80.31,222.13 L82.29,220.72 L84.28,219.36 L86.26,218.04 L88.24,216.77 L90.22,215.55 L92.21,214.38 L94.19,213.25 L96.17,212.16 L98.15,211.12 L100.14,210.12 L102.12,209.16 L104.10,208.25 L106.08,207.38 L108.06,206.54 L110.05,205.75 L112.03,205.00 L114.01,204.28 L115.99,203.60 L117.98,202.95 L119.96,202.34 L121.94,201.76 L123.92,201.21 L125.91,200.69 L127.89,200.20 L129.87,199.74 L131.85,199.30 L133.84,198.89 L135.82,198.50 L137.80,198.13 L139.78,197.78 L141.76,197.46 L143.75,197.15 L145.73,196.86 L147.71,196.58 L149.69,196.32 L151.68,196.07 L153.66,195.84 L155.64,195.61 L157.62,195.40 L159.61,195.19 L161.59,195.00 L163.57,194.81 L165.55,194.64 L167.54,194.47 L169.52,194.31 L171.50,194.16 L173.48,194.02 L175.46,193.88 L177.45,193.76 L179.43,193.64 L181.41,193.52 L183.39,193.42 L185.38,193.32 L187.36,193.23 L189.34,193.14 L191.32,193.06 L193.31,192.99 L195.29,192.92 L197.27,192.85 L199.25,192.79 L201.24,192.74 L203.22,192.69 L205.20,192.64 L207.18,192.60 L209.16,192.57 L211.15,192.53 L213.13,192.50 L215.11,192.47 L217.09,192.45 L219.08,192.43 L221.06,192.41 L223.04,192.39 L225.02,192.37 L227.01,192.36 L228.99,192.34 L230.97,192.33 L232.95,192.32 L234.94,192.31 L236.92,192.30 L238.90,192.29 L240.88,192.28 L242.86,192.27 L244.85,192.26 L246.83,192.24 L248.81,192.23 L250.79,192.22 L252.78,192.20 L254.76,192.18 L256.74,192.16 L258.72,192.14 L260.71,192.11 L262.69,192.09 L264.67,192.06 L266.65,192.02 L268.64,191.98 L270.62,191.94 L272.60,191.90" fill="none" stroke="#1a1a1a" stroke-width="1.2" stroke-linejoin="round" stroke-dasharray="3.2 2.9"/>
<text x="43.4" y="189.2" font-family="'Liberation Serif', 'Times New Roman', serif" font-weight="bold" font-size="10.6" fill="#000"><tspan font-style="italic">E</tspan>[<tspan font-style="italic">D(T)</tspan>]</text>
<text x="112.6" y="184.6" font-family="'Liberation Serif', 'Times New Roman', serif" font-style="italic" font-size="11.0" fill="#111">Prior Analysis</text>
<line x1="203.4" y1="263.0" x2="223.9" y2="263.0" stroke="#1a1a1a" stroke-width="1.4" stroke-dasharray="1.15 1.2"/>
<text x="225.4" y="265.40" font-family="'Liberation Serif', 'Times New Roman', serif" font-style="italic" font-size="7.55" fill="#1c1c1c">Alternative 1</text>
<line x1="203.4" y1="276.4" x2="223.9" y2="276.4" stroke="#1a1a1a" stroke-width="1.4" />
<text x="225.4" y="278.80" font-family="'Liberation Serif', 'Times New Roman', serif" font-style="italic" font-size="7.55" fill="#1c1c1c">Alternative 2</text>
<line x1="203.4" y1="289.4" x2="223.9" y2="289.4" stroke="#1a1a1a" stroke-width="1.35" stroke-dasharray="3.8 2.2"/>
<text x="225.4" y="291.80" font-family="'Liberation Serif', 'Times New Roman', serif" font-style="italic" font-size="7.55" fill="#1c1c1c">Alternative 3</text>
<text x="257.0" y="312.6" font-family="'Liberation Serif', 'Times New Roman', serif" font-weight="bold" font-style="italic" font-size="10.5" fill="#000">T</text>
<line x1="301.6" y1="175.40" x2="538.9" y2="175.40" stroke="#d9d9d9" stroke-width="0.9"/>
<line x1="301.6" y1="189.67" x2="538.9" y2="189.67" stroke="#d9d9d9" stroke-width="0.9"/>
<line x1="301.6" y1="203.94" x2="538.9" y2="203.94" stroke="#d9d9d9" stroke-width="0.9"/>
<line x1="301.6" y1="218.21" x2="538.9" y2="218.21" stroke="#d9d9d9" stroke-width="0.9"/>
<line x1="301.6" y1="232.48" x2="538.9" y2="232.48" stroke="#d9d9d9" stroke-width="0.9"/>
<line x1="301.6" y1="246.75" x2="538.9" y2="246.75" stroke="#d9d9d9" stroke-width="0.9"/>
<line x1="301.6" y1="261.02" x2="538.9" y2="261.02" stroke="#d9d9d9" stroke-width="0.9"/>
<line x1="301.6" y1="275.29" x2="538.9" y2="275.29" stroke="#d9d9d9" stroke-width="0.9"/>
<line x1="301.6" y1="289.56" x2="538.9" y2="289.56" stroke="#d9d9d9" stroke-width="0.9"/>
<line x1="301.6" y1="303.83" x2="538.9" y2="303.83" stroke="#d9d9d9" stroke-width="0.9"/>
<line x1="301.6" y1="318.10" x2="538.9" y2="318.10" stroke="#868686" stroke-width="1.4"/>
<line x1="301.6" y1="175.40" x2="301.6" y2="318.10" stroke="#7a7a7a" stroke-width="1.3"/>
<text x="295.6" y="177.40" text-anchor="end" font-family="'Liberation Sans', Arial, sans-serif" font-size="6.3" fill="#404040" stroke="#404040" stroke-width="0.15">2000</text>
<text x="295.6" y="191.67" text-anchor="end" font-family="'Liberation Sans', Arial, sans-serif" font-size="6.3" fill="#404040" stroke="#404040" stroke-width="0.15">1800</text>
<text x="295.6" y="205.94" text-anchor="end" font-family="'Liberation Sans', Arial, sans-serif" font-size="6.3" fill="#404040" stroke="#404040" stroke-width="0.15">1600</text>
<text x="295.6" y="220.21" text-anchor="end" font-family="'Liberation Sans', Arial, sans-serif" font-size="6.3" fill="#404040" stroke="#404040" stroke-width="0.15">1400</text>
<text x="295.6" y="234.48" text-anchor="end" font-family="'Liberation Sans', Arial, sans-serif" font-size="6.3" fill="#404040" stroke="#404040" stroke-width="0.15">1200</text>
<text x="295.6" y="248.75" text-anchor="end" font-family="'Liberation Sans', Arial, sans-serif" font-size="6.3" fill="#404040" stroke="#404040" stroke-width="0.15">1000</text>
<text x="295.6" y="263.02" text-anchor="end" font-family="'Liberation Sans', Arial, sans-serif" font-size="6.3" fill="#404040" stroke="#404040" stroke-width="0.15">800</text>
<text x="295.6" y="277.29" text-anchor="end" font-family="'Liberation Sans', Arial, sans-serif" font-size="6.3" fill="#404040" stroke="#404040" stroke-width="0.15">600</text>
<text x="295.6" y="291.56" text-anchor="end" font-family="'Liberation Sans', Arial, sans-serif" font-size="6.3" fill="#404040" stroke="#404040" stroke-width="0.15">400</text>
<text x="295.6" y="305.83" text-anchor="end" font-family="'Liberation Sans', Arial, sans-serif" font-size="6.3" fill="#404040" stroke="#404040" stroke-width="0.15">200</text>
<text x="295.6" y="320.10" text-anchor="end" font-family="'Liberation Sans', Arial, sans-serif" font-size="6.3" fill="#404040" stroke="#404040" stroke-width="0.15">0</text>
<text x="301.60" y="329.20" text-anchor="middle" font-family="'Liberation Sans', Arial, sans-serif" font-size="6.2" fill="#404040" stroke="#404040" stroke-width="0.15">0</text>
<text x="325.33" y="329.20" text-anchor="middle" font-family="'Liberation Sans', Arial, sans-serif" font-size="6.2" fill="#404040" stroke="#404040" stroke-width="0.15">1</text>
<text x="349.06" y="329.20" text-anchor="middle" font-family="'Liberation Sans', Arial, sans-serif" font-size="6.2" fill="#404040" stroke="#404040" stroke-width="0.15">2</text>
<text x="372.79" y="329.20" text-anchor="middle" font-family="'Liberation Sans', Arial, sans-serif" font-size="6.2" fill="#404040" stroke="#404040" stroke-width="0.15">3</text>
<text x="396.52" y="329.20" text-anchor="middle" font-family="'Liberation Sans', Arial, sans-serif" font-size="6.2" fill="#404040" stroke="#404040" stroke-width="0.15">4</text>
<text x="420.25" y="329.20" text-anchor="middle" font-family="'Liberation Sans', Arial, sans-serif" font-size="6.2" fill="#404040" stroke="#404040" stroke-width="0.15">5</text>
<text x="443.98" y="329.20" text-anchor="middle" font-family="'Liberation Sans', Arial, sans-serif" font-size="6.2" fill="#404040" stroke="#404040" stroke-width="0.15">6</text>
<text x="467.71" y="329.20" text-anchor="middle" font-family="'Liberation Sans', Arial, sans-serif" font-size="6.2" fill="#404040" stroke="#404040" stroke-width="0.15">7</text>
<text x="491.44" y="329.20" text-anchor="middle" font-family="'Liberation Sans', Arial, sans-serif" font-size="6.2" fill="#404040" stroke="#404040" stroke-width="0.15">8</text>
<text x="515.17" y="329.20" text-anchor="middle" font-family="'Liberation Sans', Arial, sans-serif" font-size="6.2" fill="#404040" stroke="#404040" stroke-width="0.15">9</text>
<text x="538.90" y="329.20" text-anchor="middle" font-family="'Liberation Sans', Arial, sans-serif" font-size="6.2" fill="#404040" stroke="#404040" stroke-width="0.15">10</text>
<path d="M301.70,318.10 L303.69,316.13 L305.69,314.11 L307.68,312.04 L309.67,309.93 L311.67,307.78 L313.66,305.59 L315.65,303.38 L317.65,301.15 L319.64,298.90 L321.63,296.64 L323.63,294.38 L325.62,292.11 L327.61,289.85 L329.61,287.60 L331.60,285.37 L333.59,283.16 L335.59,280.97 L337.58,278.82 L339.57,276.70 L341.57,274.62 L343.56,272.57 L345.55,270.56 L347.55,268.58 L349.54,266.64 L351.53,264.74 L353.53,262.87 L355.52,261.03 L357.51,259.23 L359.51,257.47 L361.50,255.73 L363.49,254.03 L365.48,252.37 L367.48,250.73 L369.47,249.13 L371.46,247.57 L373.46,246.03 L375.45,244.53 L377.44,243.06 L379.44,241.62 L381.43,240.21 L383.42,238.84 L385.42,237.49 L387.41,236.18 L389.40,234.89 L391.40,233.64 L393.39,232.42 L395.38,231.23 L397.38,230.06 L399.37,228.93 L401.36,227.82 L403.36,226.74 L405.35,225.69 L407.34,224.67 L409.34,223.67 L411.33,222.70 L413.32,221.76 L415.32,220.83 L417.31,219.93 L419.30,219.06 L421.30,218.20 L423.29,217.37 L425.28,216.56 L427.28,215.77 L429.27,215.00 L431.26,214.25 L433.26,213.52 L435.25,212.80 L437.24,212.11 L439.24,211.42 L441.23,210.76 L443.22,210.11 L445.22,209.48 L447.21,208.86 L449.20,208.25 L451.20,207.66 L453.19,207.08 L455.18,206.51 L457.18,205.95 L459.17,205.40 L461.16,204.86 L463.16,204.33 L465.15,203.81 L467.14,203.30 L469.14,202.79 L471.13,202.30 L473.12,201.81 L475.12,201.32 L477.11,200.85 L479.10,200.38 L481.09,199.92 L483.09,199.47 L485.08,199.03 L487.07,198.59 L489.07,198.17 L491.06,197.75 L493.05,197.34 L495.05,196.95 L497.04,196.56 L499.03,196.18 L501.03,195.81 L503.02,195.45 L505.01,195.11 L507.01,194.77 L509.00,194.44 L510.99,194.13 L512.99,193.82 L514.98,193.53 L516.97,193.24 L518.97,192.97 L520.96,192.71 L522.95,192.46 L524.95,192.23 L526.94,192.00 L528.93,191.79 L530.93,191.59 L532.92,191.41 L534.91,191.23 L536.91,191.07 L538.90,190.93" fill="none" stroke="#1a1a1a" stroke-width="1.3" stroke-linejoin="round" stroke-dasharray="1.15 1.2"/>
<path d="M301.70,318.10 L303.69,314.95 L305.69,311.74 L307.68,308.47 L309.67,305.17 L311.67,301.84 L313.66,298.49 L315.65,295.13 L317.65,291.77 L319.64,288.43 L321.63,285.10 L323.63,281.82 L325.62,278.57 L327.61,275.38 L329.61,272.24 L331.60,269.16 L333.59,266.13 L335.59,263.17 L337.58,260.26 L339.57,257.42 L341.57,254.64 L343.56,251.92 L345.55,249.27 L347.55,246.69 L349.54,244.18 L351.53,241.73 L353.53,239.36 L355.52,237.06 L357.51,234.84 L359.51,232.69 L361.50,230.62 L363.49,228.63 L365.48,226.71 L367.48,224.86 L369.47,223.09 L371.46,221.39 L373.46,219.75 L375.45,218.18 L377.44,216.68 L379.44,215.24 L381.43,213.85 L383.42,212.53 L385.42,211.26 L387.41,210.05 L389.40,208.88 L391.40,207.77 L393.39,206.71 L395.38,205.69 L397.38,204.71 L399.37,203.78 L401.36,202.89 L403.36,202.03 L405.35,201.22 L407.34,200.43 L409.34,199.68 L411.33,198.96 L413.32,198.27 L415.32,197.60 L417.31,196.96 L419.30,196.34 L421.30,195.74 L423.29,195.17 L425.28,194.60 L427.28,194.06 L429.27,193.54 L431.26,193.03 L433.26,192.54 L435.25,192.07 L437.24,191.62 L439.24,191.18 L441.23,190.76 L443.22,190.35 L445.22,189.96 L447.21,189.58 L449.20,189.22 L451.20,188.87 L453.19,188.54 L455.18,188.22 L457.18,187.91 L459.17,187.61 L461.16,187.33 L463.16,187.06 L465.15,186.80 L467.14,186.55 L469.14,186.32 L471.13,186.09 L473.12,185.87 L475.12,185.67 L477.11,185.47 L479.10,185.28 L481.09,185.10 L483.09,184.93 L485.08,184.77 L487.07,184.61 L489.07,184.46 L491.06,184.32 L493.05,184.19 L495.05,184.06 L497.04,183.93 L499.03,183.81 L501.03,183.70 L503.02,183.59 L505.01,183.49 L507.01,183.39 L509.00,183.29 L510.99,183.20 L512.99,183.11 L514.98,183.02 L516.97,182.93 L518.97,182.85 L520.96,182.76 L522.95,182.68 L524.95,182.60 L526.94,182.52 L528.93,182.44 L530.93,182.36 L532.92,182.27 L534.91,182.19 L536.91,182.10 L538.90,182.02" fill="none" stroke="#1a1a1a" stroke-width="1.3" stroke-linejoin="round" />
<path d="M301.70,318.09 L303.69,315.00 L305.69,311.73 L307.68,308.31 L309.67,304.77 L311.67,301.13 L313.66,297.43 L315.65,293.68 L317.65,289.91 L319.64,286.16 L321.63,282.44 L323.63,278.79 L325.62,275.23 L327.61,271.78 L329.61,268.44 L331.60,265.22 L333.59,262.10 L335.59,259.09 L337.58,256.17 L339.57,253.36 L341.57,250.65 L343.56,248.03 L345.55,245.50 L347.55,243.06 L349.54,240.70 L351.53,238.43 L353.53,236.25 L355.52,234.13 L357.51,232.10 L359.51,230.14 L361.50,228.25 L363.49,226.42 L365.48,224.67 L367.48,222.98 L369.47,221.35 L371.46,219.78 L373.46,218.27 L375.45,216.82 L377.44,215.43 L379.44,214.09 L381.43,212.80 L383.42,211.57 L385.42,210.38 L387.41,209.24 L389.40,208.15 L391.40,207.11 L393.39,206.10 L395.38,205.14 L397.38,204.21 L399.37,203.33 L401.36,202.48 L403.36,201.66 L405.35,200.88 L407.34,200.13 L409.34,199.40 L411.33,198.71 L413.32,198.04 L415.32,197.39 L417.31,196.77 L419.30,196.17 L421.30,195.58 L423.29,195.02 L425.28,194.47 L427.28,193.94 L429.27,193.43 L431.26,192.93 L433.26,192.45 L435.25,191.99 L437.24,191.54 L439.24,191.11 L441.23,190.69 L443.22,190.29 L445.22,189.90 L447.21,189.52 L449.20,189.16 L451.20,188.82 L453.19,188.48 L455.18,188.16 L457.18,187.85 L459.17,187.56 L461.16,187.27 L463.16,187.00 L465.15,186.74 L467.14,186.49 L469.14,186.25 L471.13,186.02 L473.12,185.80 L475.12,185.59 L477.11,185.39 L479.10,185.19 L481.09,185.01 L483.09,184.83 L485.08,184.67 L487.07,184.51 L489.07,184.35 L491.06,184.21 L493.05,184.07 L495.05,183.93 L497.04,183.81 L499.03,183.69 L501.03,183.57 L503.02,183.46 L505.01,183.35 L507.01,183.25 L509.00,183.15 L510.99,183.05 L512.99,182.96 L514.98,182.87 L516.97,182.79 L518.97,182.70 L520.96,182.62 L522.95,182.54 L524.95,182.46 L526.94,182.39 L528.93,182.31 L530.93,182.23 L532.92,182.15 L534.91,182.08 L536.91,182.00 L538.90,181.92" fill="none" stroke="#1a1a1a" stroke-width="1.2" stroke-linejoin="round" stroke-dasharray="3.2 2.9"/>
<text x="309.8" y="192.2" font-family="'Liberation Serif', 'Times New Roman', serif" font-weight="bold" font-size="10.6" fill="#000"><tspan font-style="italic">E</tspan>[<tspan font-style="italic">M(T)</tspan>]</text>
<text x="382.2" y="181.9" font-family="'Liberation Serif', 'Times New Roman', serif" font-style="italic" font-size="10.55" fill="#111">Prior Analysis</text>
<line x1="469.6" y1="266.2" x2="490.1" y2="266.2" stroke="#1a1a1a" stroke-width="1.4" stroke-dasharray="1.15 1.2"/>
<text x="491.9" y="268.60" font-family="'Liberation Serif', 'Times New Roman', serif" font-style="italic" font-size="7.75" fill="#1c1c1c">Alternative 1</text>
<line x1="469.6" y1="279.1" x2="490.1" y2="279.1" stroke="#1a1a1a" stroke-width="1.4" />
<text x="491.9" y="281.50" font-family="'Liberation Serif', 'Times New Roman', serif" font-style="italic" font-size="7.75" fill="#1c1c1c">Alternative 2</text>
<line x1="469.6" y1="292.3" x2="490.1" y2="292.3" stroke="#1a1a1a" stroke-width="1.35" stroke-dasharray="3.8 2.2"/>
<text x="491.9" y="294.70" font-family="'Liberation Serif', 'Times New Roman', serif" font-style="italic" font-size="7.75" fill="#1c1c1c">Alternative 3</text>
<text x="528.6" y="311.8" font-family="'Liberation Serif', 'Times New Roman', serif" font-weight="bold" font-style="italic" font-size="10.5" fill="#000">T</text>
</svg>
</body></html>
